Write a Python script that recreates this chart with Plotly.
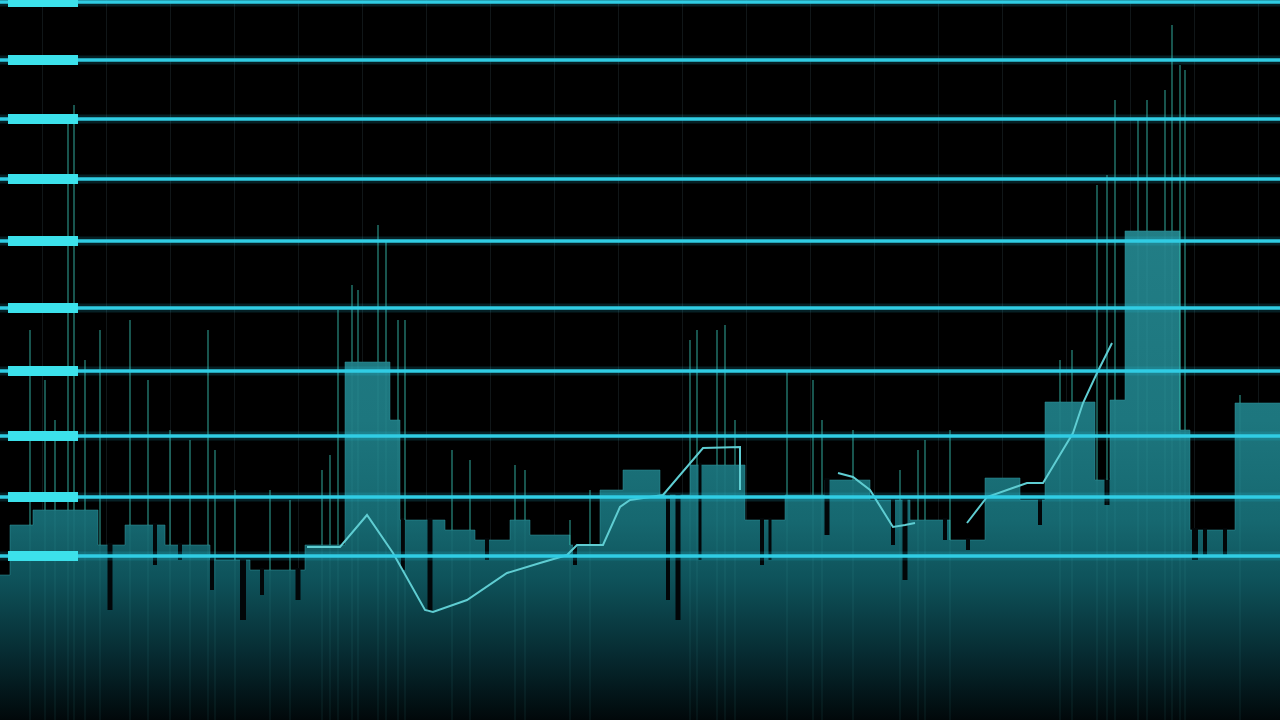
import plotly.graph_objects as go
import numpy as np

# ---- data (levels measured upward from the bottom of the chart) ----
grid_levels = [718, 660, 601, 541, 479, 412, 349, 284, 223, 164]

sky_edges = [0, 10, 33, 98, 125, 165, 210, 250, 305, 345, 390, 400, 445, 475, 510, 530,
             570, 600, 623, 660, 690, 745, 785, 825, 870, 910, 950, 985, 1020, 1045,
             1095, 1110, 1125, 1180, 1190, 1235]
sky_levels = [145, 195, 210, 175, 195, 175, 160, 150, 175, 358, 300, 200, 190, 180, 200, 185,
              175, 230, 250, 225, 255, 200, 225, 240, 220, 200, 180, 242, 220, 318,
              240, 320, 489, 290, 190, 317]
sky_end = 1280

gap_x = [110, 155, 180, 212, 243, 262, 298, 403, 430, 487, 575, 668, 678, 700, 762, 770,
         827, 893, 905, 945, 968, 1040, 1107, 1195, 1205, 1225]
gap_w = [5, 4, 4, 4, 6, 4, 5, 4, 5, 4, 4, 4, 5, 3, 4, 3,
         5, 4, 5, 4, 4, 4, 5, 6, 4, 4]
gap_bottom = [110, 155, 160, 130, 100, 125, 120, 150, 108, 160, 155, 120, 100, 160, 155, 160,
              185, 175, 140, 180, 170, 195, 215, 160, 165, 165]

spike_x = [30, 45, 55, 68, 74, 85, 100, 130, 148, 170, 190, 208, 215, 235, 270, 290,
           322, 330, 338, 352, 358, 378, 386, 398, 405, 452, 470, 515, 525, 570, 590,
           690, 697, 717, 725, 735, 787, 813, 822, 853, 900, 918, 925, 950,
           1060, 1072, 1097, 1107, 1115, 1138, 1147, 1165, 1172, 1180, 1185, 1240]
spike_top = [390, 340, 300, 600, 615, 360, 390, 400, 340, 290, 280, 390, 270, 230, 230, 220,
             250, 265, 410, 435, 430, 495, 480, 400, 400, 270, 260, 255, 250, 200, 230,
             380, 390, 390, 395, 300, 350, 340, 300, 290, 250, 270, 280, 290,
             360, 370, 535, 545, 620, 600, 620, 630, 695, 655, 650, 325]

trend_x = [307, 340, 367, 393, 425, 433, 467, 507, 540, 567, 577, 603, 620, 630, 663, 703, 740, 740, None,
           838, 853, 870, 893, 905, 915, None,
           967, 987, 1027, 1043, 1073, 1083, 1097, 1112]
trend_y = [173, 173, 205, 167, 110, 108, 120, 147, 157, 165, 175, 175, 213, 220, 225, 272, 273, 230, None,
           247, 243, 230, 193, 195, 197, None,
           197, 223, 237, 237, 287, 317, 347, 377]

W, H = 1280, 720
stub_start, stub_end = 8, 78


def sky_at(x):
    i = int(np.searchsorted(sky_edges, x, side="right")) - 1
    return sky_levels[max(i, 0)]


fig = go.Figure()

# skyline area with vertical gradient
xs = sky_edges + [sky_end]
ys = sky_levels + [sky_levels[-1]]
fig.add_trace(go.Scatter(
    x=xs, y=ys, mode="lines",
    line=dict(shape="hv", width=1, color="rgba(50,150,158,0.5)"),
    fill="tozeroy",
    fillgradient=dict(
        type="vertical", start=0, stop=500,
        colorscale=[[0.0, "rgb(1,8,10)"], [0.12, "rgb(6,40,46)"], [0.28, "rgb(14,82,90)"],
                    [0.4, "rgb(22,104,112)"], [0.6, "rgb(29,118,126)"], [1.0, "rgb(34,126,134)"]],
    ),
    hoverinfo="skip",
))

# dark gaps hanging into the bars (thick vertical line segments, grouped by width)
for w in sorted(set(gap_w)):
    gxs, gys = [], []
    for x, gw, b in zip(gap_x, gap_w, gap_bottom):
        if gw != w:
            continue
        gxs += [x, x, None]
        gys += [b, sky_at(x) + 2, None]
    fig.add_trace(go.Scatter(x=gxs, y=gys, mode="lines",
                             line=dict(width=w, color="rgb(2,6,8)"), hoverinfo="skip"))

# thin spikes: faint part inside bars, brighter part above
low_x, low_y, up_x, up_y = [], [], [], []
for x, t in zip(spike_x, spike_top):
    s = sky_at(x)
    low_x += [x, x, None]
    low_y += [0, s, None]
    up_x += [x, x, None]
    up_y += [s, t, None]
fig.add_trace(go.Scatter(x=low_x, y=low_y, mode="lines",
                         line=dict(width=1, color="rgba(90,200,200,0.12)"), hoverinfo="skip"))
fig.add_trace(go.Scatter(x=up_x, y=up_y, mode="lines",
                         line=dict(width=1.2, color="rgba(55,190,175,0.75)"), hoverinfo="skip"))

# trend line
fig.add_trace(go.Scatter(x=trend_x, y=trend_y, mode="lines",
                         line=dict(width=2, color="rgb(95,205,210)"), hoverinfo="skip"))

# glowing horizontal grid lines with thick left stubs
gx, gy, sx, sy = [], [], [], []
for g in grid_levels:
    gx += [0, W, None]
    gy += [g, g, None]
    sx += [stub_start, stub_end, None]
    sy += [g, g, None]
fig.add_trace(go.Scatter(x=gx, y=gy, mode="lines",
                         line=dict(width=9, color="rgba(40,200,230,0.16)"), hoverinfo="skip"))
fig.add_trace(go.Scatter(x=gx, y=gy, mode="lines",
                         line=dict(width=3.5, color="rgb(48,205,228)"), hoverinfo="skip"))
fig.add_trace(go.Scatter(x=sx, y=sy, mode="lines",
                         line=dict(width=10, color="rgb(60,225,235)"), hoverinfo="skip"))

fig.update_layout(
    width=W, height=H,
    margin=dict(l=0, r=0, t=0, b=0),
    paper_bgcolor="black", plot_bgcolor="black",
    showlegend=False,
    xaxis=dict(range=[0, W], showticklabels=False, zeroline=False, showgrid=True,
               dtick=64, tick0=42, gridcolor="rgb(16,22,24)", gridwidth=1, fixedrange=True),
    yaxis=dict(range=[0, H], showticklabels=False, zeroline=False, showgrid=False, fixedrange=True),
)

fig.write_html(
    "out.html",
    config={"displayModeBar": False},
    post_script="document.body.style.margin='0';document.body.style.background='black';",
)
